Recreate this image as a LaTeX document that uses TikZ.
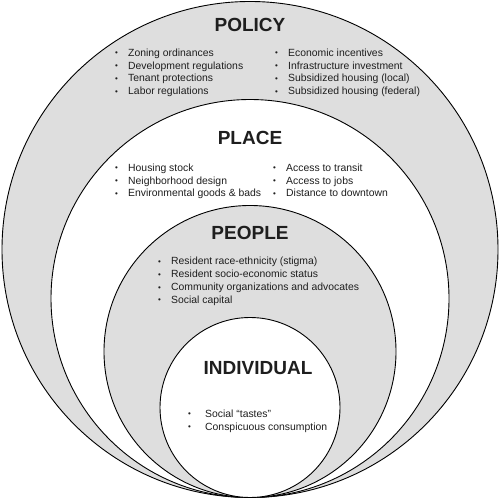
\documentclass[tikz,border=0pt]{standalone}
\usepackage{fontspec}
\setmainfont{Liberation Sans}
\definecolor{ringgray}{RGB}{222,222,222}
\definecolor{txt}{RGB}{30,30,30}
\newcommand{\bul}{\makebox[13pt][l]{\raisebox{0.3pt}{\footnotesize•}}}
\begin{document}
\begin{tikzpicture}[x=1pt,y=-1pt,
  ring/.style={circle,draw=black,line width=0.9pt,inner sep=0pt},
  title/.style={font=\fontsize{19}{22}\selectfont\bfseries,text=txt,anchor=center},
  items/.style={font=\fontsize{10.4}{12.8}\selectfont,text=txt,align=left,anchor=north west,inner sep=0pt}]
\useasboundingbox (0,0) rectangle (500,500);
\node[ring,fill=ringgray,minimum size=496pt] (cpolicy) at (250,249.5) {};
\node[ring,fill=white,minimum size=398pt] (cplace) at (250,298.5) {};
\node[ring,fill=ringgray,minimum size=292pt] (cpeople) at (250,351.5) {};
\node[ring,fill=white,minimum size=180pt] (cindiv) at (250,407.5) {};

\node[title] (tpolicy) at (250,25) {POLICY};
\node[items] (pol1) at (115,48.5) {\bul Zoning ordinances\\\bul Development regulations\\\bul Tenant protections\\\bul Labor regulations};
\node[items] (pol2) at (275,48.5) {\bul Economic incentives\\\bul Infrastructure investment\\\bul Subsidized housing (local)\\\bul Subsidized housing (federal)};

\node[title] (tplace) at (250,138) {PLACE};
\node[items] (pla1) at (115,163.5) {\bul Housing stock\\\bul Neighborhood design\\\bul Environmental goods \& bads};
\node[items] (pla2) at (273,163.5) {\bul Access to transit\\\bul Access to jobs\\\bul Distance to downtown};

\node[title] (tpeople) at (250,233) {PEOPLE};
\node[items] (peo1) at (158,257) {\bul Resident race-ethnicity (stigma)\\\bul Resident socio-economic status\\\bul Community organizations and advocates\\\bul Social capital};

\node[title] (tindiv) at (258,368) {INDIVIDUAL};
\node[items,anchor=north west] (ind1) at (188,409.5) {\makebox[17pt][l]{\raisebox{0.3pt}{\footnotesize•}}Social “tastes”\\\makebox[17pt][l]{\raisebox{0.3pt}{\footnotesize•}}Conspicuous consumption};
\end{tikzpicture}
\end{document}
